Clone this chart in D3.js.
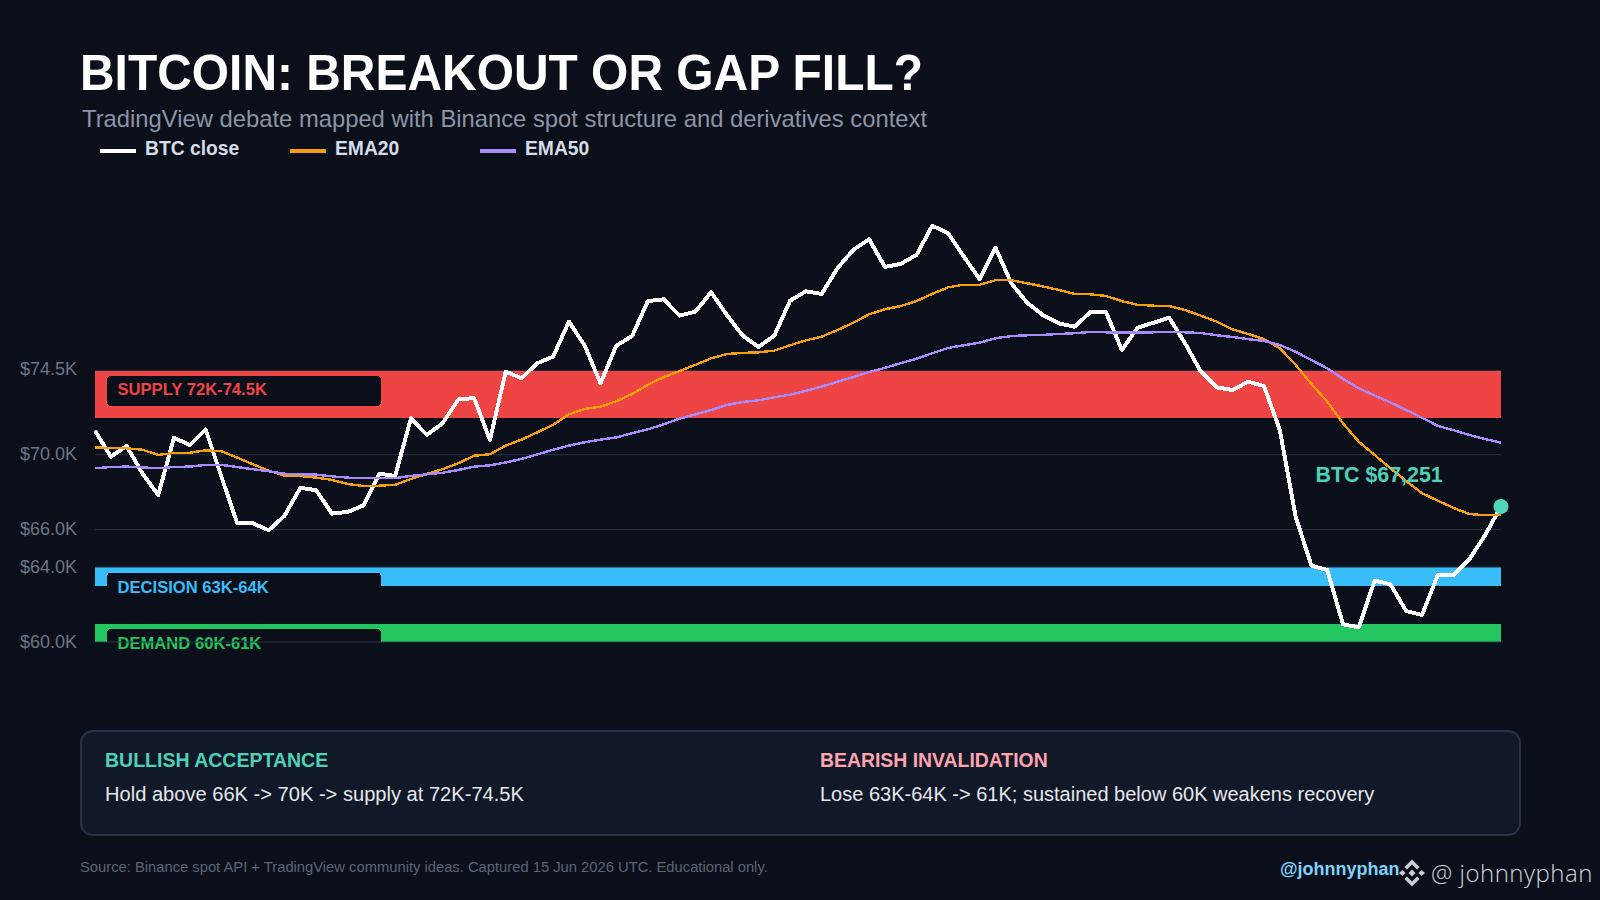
<!DOCTYPE html>
<html><head><meta charset="utf-8">
<script src="https://d3js.org/d3.v7.min.js"></script>
<style>
html,body{margin:0;padding:0;background:#0b0f19;overflow:hidden}
svg{display:block}
text{font-family:"Liberation Sans",Arial,sans-serif}
</style></head><body>
<svg id="c" width="1600" height="900"></svg>
<script>
const btcClose=[71.30,69.91,70.48,69.02,67.86,70.92,70.53,71.37,68.84,66.37,66.35,65.98,66.76,68.25,68.12,66.87,66.96,67.31,69.00,68.88,71.96,71.07,71.69,72.97,73.04,70.80,74.45,74.10,74.90,75.25,77.12,75.84,73.83,75.84,76.35,78.22,78.31,77.44,77.65,78.69,77.47,76.37,75.77,76.37,78.24,78.74,78.60,79.97,80.95,81.52,80.04,80.20,80.68,82.24,81.84,80.59,79.38,81.07,79.17,78.13,77.47,77.03,76.85,77.62,77.62,75.61,76.80,77.06,77.33,75.96,74.45,73.61,73.47,73.91,73.68,71.33,66.71,64.09,63.86,60.96,60.80,63.29,63.10,61.67,61.46,63.59,63.58,64.43,65.73,67.251];
const ema20=[70.41,70.36,70.36,70.28,70.00,70.11,70.12,70.25,70.20,69.86,69.50,69.16,68.89,68.88,68.79,68.67,68.45,68.34,68.36,68.41,68.72,68.99,69.24,69.56,69.96,70.04,70.50,70.82,71.21,71.62,72.17,72.46,72.58,72.87,73.26,73.74,74.16,74.48,74.81,75.16,75.39,75.45,75.48,75.57,75.86,76.12,76.32,76.67,77.06,77.51,77.78,77.95,78.22,78.60,78.95,79.09,79.09,79.33,79.33,79.17,79.00,78.81,78.60,78.58,78.49,78.21,78.02,77.97,77.95,77.74,77.44,77.12,76.71,76.46,76.19,75.70,74.81,73.79,72.85,71.69,70.71,70.00,69.29,68.61,67.96,67.56,67.17,66.85,66.78,66.81];
const ema50=[69.29,69.36,69.38,69.34,69.29,69.36,69.38,69.47,69.47,69.36,69.24,69.13,69.00,68.97,68.95,68.86,68.79,68.76,68.76,68.77,68.88,68.97,69.05,69.20,69.38,69.45,69.60,69.79,70.03,70.28,70.50,70.68,70.82,70.94,71.16,71.37,71.64,71.94,72.17,72.40,72.67,72.83,72.92,73.08,73.22,73.43,73.65,73.91,74.16,74.43,74.65,74.90,75.14,75.43,75.71,75.86,76.00,76.23,76.35,76.39,76.41,76.46,76.50,76.57,76.55,76.55,76.55,76.55,76.58,76.55,76.51,76.39,76.30,76.18,76.09,75.87,75.51,75.07,74.63,74.06,73.56,73.17,72.81,72.40,71.99,71.55,71.32,71.07,70.85,70.66];
const yTicks=[74.5,70,66,64,60];
const zoneNames=["SUPPLY 72K-74.5K","DECISION 63K-64K","DEMAND 60K-61K"];
const zoneLow=[72,63,60];
const zoneHigh=[74.5,64,61];
const zoneColors=["#ef4444","#38bdf8","#22c55e"];
const seriesNames=["BTC close","EMA20","EMA50"];
const seriesColors=["#ffffff","#f59e0b","#a78bfa"];

const seriesWidths=[4,2.4,2.4];
const BG="#0b0f19";
const svg=d3.select("#c");
svg.append("rect").attr("width",1600).attr("height",900).attr("fill",BG);
const x=d3.scaleLinear().domain([0,btcClose.length-1]).range([95,1501]);
const y=d3.scaleLinear().domain([60,74.5]).range([642.3,370.7]);

svg.append("text").attr("x",80).attr("y",89.5).attr("fill","#fff").attr("font-size",50).attr("font-weight",700)
  .attr("textLength",843).attr("lengthAdjust","spacingAndGlyphs").text("BITCOIN: BREAKOUT OR GAP FILL?");
svg.append("text").attr("x",82).attr("y",127).attr("fill","#8b95a7").attr("font-size",24)
  .attr("textLength",845).attr("lengthAdjust","spacingAndGlyphs").text("TradingView debate mapped with Binance spot structure and derivatives context");

const legX=[100,290,480];
seriesNames.forEach((n,i)=>{
  svg.append("line").attr("x1",legX[i]).attr("x2",legX[i]+36).attr("y1",151).attr("y2",151).attr("stroke",seriesColors[i]).attr("stroke-width",4).attr("shape-rendering","crispEdges");
  svg.append("text").attr("x",legX[i]+45).attr("y",155).attr("fill","#d6dce8").attr("font-size",19.3).attr("font-weight",700).text(n);
});

// zones
const labelDy=[24.3,26,25.4];
zoneNames.forEach((n,i)=>{
  const top=y(zoneHigh[i]);
  svg.append("rect").attr("x",x(0)).attr("width",x.range()[1]-x.range()[0]).attr("y",top).attr("height",y(zoneLow[i])-top).attr("fill",zoneColors[i]).attr("shape-rendering","crispEdges");
  svg.append("rect").attr("x",107).attr("y",top+5.3).attr("width",274).attr("height",30).attr("rx",4).attr("fill",BG).attr("shape-rendering","crispEdges");
  svg.append("text").attr("x",117.5).attr("y",top+labelDy[i]).attr("fill",zoneColors[i]).attr("font-size",16.6).attr("font-weight",700).text(n);
});

// axis + grid
const axis=d3.axisLeft(y).tickValues(yTicks).tickFormat(d=>"$"+d3.format(".1f")(d)+"K").tickSize(-(x.range()[1]-x.range()[0])).tickPadding(18).offset(-0.3);
const ag=svg.append("g").attr("transform",`translate(${x(0)},0)`).call(axis);
ag.select(".domain").remove();
ag.selectAll(".tick line").attr("stroke","#2a3648").attr("stroke-width",1);
ag.selectAll(".tick text").attr("fill","#6b7688").attr("font-size",18).attr("font-family",'"Liberation Sans",Arial,sans-serif').attr("y",d=>d===74.5?-1:0);

// lines
[btcClose,ema20,ema50].forEach((s,i)=>{
  const ln=d3.line().x((d,k)=>x(k)).y(d=>y(d));
  svg.append("path").datum(s).attr("d",ln).attr("fill","none").attr("stroke",seriesColors[i]).attr("stroke-width",seriesWidths[i]).attr("stroke-linejoin","round").attr("shape-rendering","crispEdges");
});

const last=btcClose[btcClose.length-1];
svg.append("circle").attr("cx",x(btcClose.length-1)).attr("cy",y(last)).attr("r",7.5).attr("fill","#4fd6bb");
svg.append("text").attr("x",1315.5).attr("y",482).attr("fill","#4fd1b8").attr("font-size",21.4).attr("font-weight",700).text("BTC $"+d3.format(",")(Math.round(last*1000)));

// panel
svg.append("rect").attr("x",81).attr("y",731).attr("width",1439).attr("height",104).attr("rx",12).attr("fill","#111827").attr("stroke","#263347").attr("stroke-width",2);
const t=(xx,yy,txt,fill,size,w)=>svg.append("text").attr("x",xx).attr("y",yy).attr("fill",fill).attr("font-size",size).attr("font-weight",w||400).text(txt);
t(105,767,"BULLISH ACCEPTANCE","#4fd1b8",19.5,700);
t(105,801,"Hold above 66K -> 70K -> supply at 72K-74.5K","#e5e7eb",20.1);
t(820,767,"BEARISH INVALIDATION","#fda4af",19.4,700);
t(820,801,"Lose 63K-64K -> 61K; sustained below 60K weakens recovery","#e5e7eb",20);
t(80,872,"Source: Binance spot API + TradingView community ideas. Captured 15 Jun 2026 UTC. Educational only.","#5b6575",14.76);
t(1280,875,"@johnnyphan","#7dd3fc",18,700);

// brand glyph
const g=svg.append("g").attr("transform","translate(1412,873)").attr("fill","#c9cdd4");
g.append("path").attr("d","M0,-3.5L3.5,0L0,3.5L-3.5,0Z");
g.append("path").attr("d","M-9.5,-3L-13,0L-9.5,3L-6.5,0Z");
g.append("path").attr("d","M9.5,-3L13,0L9.5,3L6.5,0Z");
g.append("path").attr("d","M0,-13.5L7.5,-6L5,-3.5L0,-8.5L-5,-3.5L-7.5,-6Z");
g.append("path").attr("d","M0,13.5L7.5,6L5,3.5L0,8.5L-5,3.5L-7.5,6Z");
svg.append("text").attr("x",1431).attr("y",882).attr("fill","#d0d4da").attr("font-size",24).attr("style",'font-family:"Open Sans";font-weight:300;letter-spacing:0.5px').text("@ johnnyphan");
</script>
</body></html>
